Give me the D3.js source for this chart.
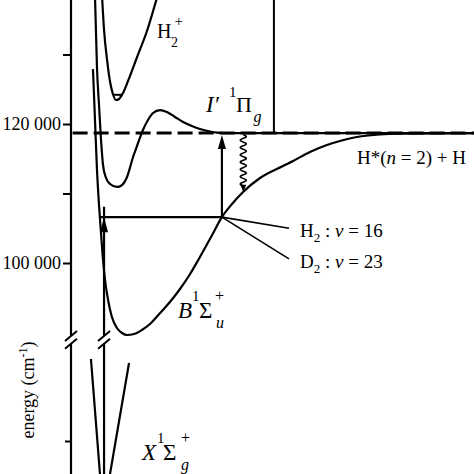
<!DOCTYPE html>
<html>
<head>
<meta charset="utf-8">
<script src="https://cdn.jsdelivr.net/npm/d3@7"></script>
<style>
  body { margin: 0; background: #fff; }
  svg { display: block; }
  text { font-family: "Liberation Serif", "Times New Roman", serif; fill: #000; }
</style>
</head>
<body>
<svg width="474" height="474"></svg>
<script>
// potential curves: [r (bohr), energy (cm-1)]
const hPlusCurve = [[1.54, 138420], [1.64, 133530], [1.79, 129210], [1.94, 126040], [2.08, 124320],
  [2.23, 123450], [2.38, 123600], [2.58, 124460], [2.83, 126190], [3.28, 129640], [3.77, 133380], [4.29, 138420]];
const hPlusV0 = [[2.09, 124200], [2.56, 124200]];

const iPrimeCurve = [[1.19, 138420], [1.29, 128060], [1.39, 122730], [1.49, 117700], [1.59, 114100],
  [1.74, 112230], [1.94, 111370], [2.28, 110940], [2.53, 111220], [2.78, 112370], [3.08, 115250],
  [3.33, 117270], [3.57, 119140], [3.82, 120580], [4.07, 121580], [4.42, 122010], [4.76, 121730],
  [5.16, 121010], [5.56, 120290], [6.00, 119710], [6.40, 119280], [6.90, 118920], [7.25, 118750],
  [7.54, 118700], [20.3, 118700]];

const bCurve = [[1.09, 127900], [1.19, 120600], [1.29, 113400], [1.39, 108350], [1.49, 104300],
  [1.59, 100430], [1.69, 97550], [1.84, 94680], [2.03, 92230], [2.28, 90650], [2.53, 89930],
  [2.78, 89640], [3.13, 89780], [3.52, 90360], [3.92, 91220], [4.42, 92800], [4.91, 94390],
  [5.41, 96260], [5.91, 98420], [6.40, 100860], [6.95, 103740], [7.49, 106600], [7.99, 108490],
  [8.54, 110220], [9.38, 112230], [10.52, 113960], [11.02, 114680], [11.86, 115970], [12.70, 116980],
  [13.35, 117550], [14.34, 118200], [15.33, 118490], [16.33, 118600], [20.3, 118690]];

// ground state walls, lower (broken) part of the axis
const xLeftWall = [[0.99, 21800], [1.50, 2950]];
const xRightWall = [[2.88, 21220], [1.80, 2950]];

const limitLevel = 118700;   // H*(n=2) + H
const v16Level = 106600;
const pumpR = 1.64;
const pumpStart = 2950;
const probeR = 7.49;
const emitR = 8.55;
const emitE = [118450, 110250];
const boxR = 10.07;
const leaderEnds = [[10.82, 105000], [10.82, 100600]];

const upperTicks = [100000, 110000, 120000, 130000];
const upperLabels = [100000, 120000];
const lowerTicks = [10000];
const breakUpper = 89500;
const breakLower = 24000;

const svg = d3.select('svg');

const x = d3.scaleLinear().domain([0, 20]).range([71, 474]);
const y = d3.scaleLinear().domain([100000, 120000]).range([263, 124]);
const yLow = d3.scaleLinear().domain([0, 10000]).range([510.5, 441]);

const curve = d3.line().x(d => x(d[0])).y(d => y(d[1])).curve(d3.curveMonotoneX);
const straight = d3.line().x(d => x(d[0])).y(d => y(d[1]));
const straightLow = d3.line().x(d => x(d[0])).y(d => yLow(d[1]));

const ink = '#000';

function path(d, w, dash) {
  return svg.append('path').attr('d', d).attr('fill', 'none')
    .attr('stroke', ink).attr('stroke-width', w || 2.2)
    .attr('stroke-dasharray', dash || null);
}

function arrowHead(tx, ty, dir, w, len) {
  // dir: -1 points up, 1 points down
  const by = ty - dir * len;
  svg.append('path')
    .attr('d', `M${tx},${ty}L${tx - w / 2},${by}L${tx + w / 2},${by}Z`)
    .attr('fill', ink);
}

function breakMarks(cx, ys) {
  ys.forEach(cy => {
    svg.append('line')
      .attr('x1', cx - 6).attr('y1', cy + 5)
      .attr('x2', cx + 6).attr('y2', cy - 5)
      .attr('stroke', ink).attr('stroke-width', 2);
  });
}

// axis
const fmt = d3.formatLocale({decimal: '.', thousands: ' ', grouping: [3], currency: ['', '']}).format(',');
const axis = svg.append('g')
  .attr('transform', `translate(${x(0)},0)`)
  .call(d3.axisLeft(y).tickValues(upperTicks).tickSize(8).tickPadding(2)
    .tickFormat(d => upperLabels.includes(d) ? fmt(d) : ''));
axis.select('.domain').remove();
axis.attr('font-family', null).attr('font-size', null);
axis.selectAll('line').attr('stroke', ink).attr('stroke-width', 2);
axis.selectAll('text').style('font-size', '18px').attr('fill', ink);

const axisLow = svg.append('g')
  .attr('transform', `translate(${x(0)},0)`)
  .call(d3.axisLeft(yLow).tickValues(lowerTicks).tickSize(6).tickFormat(''));
axisLow.select('.domain').remove();
axisLow.selectAll('line').attr('stroke', ink).attr('stroke-width', 2);

svg.append('line').attr('x1', x(0)).attr('x2', x(0))
  .attr('y1', y(140000)).attr('y2', y(breakUpper))
  .attr('stroke', ink).attr('stroke-width', 2.2);
svg.append('line').attr('x1', x(0)).attr('x2', x(0))
  .attr('y1', yLow(breakLower)).attr('y2', yLow(-5000))
  .attr('stroke', ink).attr('stroke-width', 2.2);
breakMarks(x(0), [y(breakUpper), yLow(breakLower)]);

// dissociation limit (dashed) and the vertical frame edge
path(straight([[0.08, limitLevel], [20.3, limitLevel]]), 3, '15,6');
path(straight([[boxR, 140000], [boxR, limitLevel]]), 2);

// potential curves
path(curve(hPlusCurve));
path(straight(hPlusV0), 2);
path(curve(iPrimeCurve));
path(curve(bCurve));
path(straightLow(xLeftWall));
path(straightLow(xRightWall));

// pump arrow X -> B (v = 16), broken like the axis
path(straightLow([[pumpR, pumpStart], [pumpR, breakLower]]));
path(straight([[pumpR, breakUpper], [pumpR, v16Level + 1500]]));
arrowHead(x(pumpR), y(v16Level), -1, 8, 15);
breakMarks(x(pumpR), [y(breakUpper), yLow(breakLower)]);

// v = 16 level and probe arrow to the limit
path(straight([[1.45, v16Level], [probeR, v16Level]]));
path(straight([[probeR, v16Level], [probeR, limitLevel - 1500]]));
arrowHead(x(probeR), y(limitLevel) + 2, -1, 8, 14);

// emission (wavy arrow)
const wx = x(emitR), wy0 = y(emitE[0]), wy1 = y(emitE[1]);
const wave = d3.range(0, 1.0001, 0.01).map(t => [wx + 3 * Math.sin(t * 7 * 2 * Math.PI), wy0 + t * (wy1 - 6 - wy0)]);
path(d3.line()(wave), 1.6);
arrowHead(wx, wy1, 1, 6, 7);

// leader lines to the labels
leaderEnds.forEach(e => path(straight([[probeR, v16Level], e]), 1.6));

// labels
function label(str, px, py, size, italic) {
  return svg.append('text').attr('x', px).attr('y', py)
    .style('font-size', size + 'px')
    .style('font-style', italic ? 'italic' : 'normal')
    .text(str);
}

label('H', 157, 38, 20);
label('2', 171, 47, 14);
label('+', 174.5, 26, 15);

label('I\u2032', 206, 112, 23, true);
label('1', 229, 97, 15);
label('\u03A0', 236, 112, 22);
label('g', 253.5, 122, 16, true);

label('B', 178, 318, 23, true);
label('1', 192, 301, 15);
label('\u03A3', 199, 318, 23);
label('+', 215, 301, 16);
label('u', 216, 328, 16, true);

label('X', 142, 460, 23, true);
label('1', 157, 443, 15);
label('\u03A3', 163, 460, 23);
label('+', 181, 443, 16);
label('g', 181, 470, 16, true);

const hn = label('H*(', 357, 164, 19);
hn.append('tspan').style('font-style', 'italic').text('n');
hn.append('tspan').text(' = 2) + H');

function molLabel(atom, vib, py) {
  const t = label(atom, 300, py, 19);
  t.append('tspan').attr('dy', 5).style('font-size', '13px').text('2');
  t.append('tspan').attr('dy', -5).text(' : ');
  t.append('tspan').style('font-style', 'italic').text('v');
  t.append('tspan').text(' = ' + vib);
}
molLabel('H', 16, 237);
molLabel('D', 23, 268);

const yl = svg.append('text')
  .attr('transform', 'translate(34,390) rotate(-90)')
  .attr('text-anchor', 'middle')
  .style('font-size', '18px')
  .text('energy (cm');
yl.append('tspan').attr('dy', -7).style('font-size', '12px').text('-1');
yl.append('tspan').attr('dy', 7).text(')');
</script>
</body>
</html>
